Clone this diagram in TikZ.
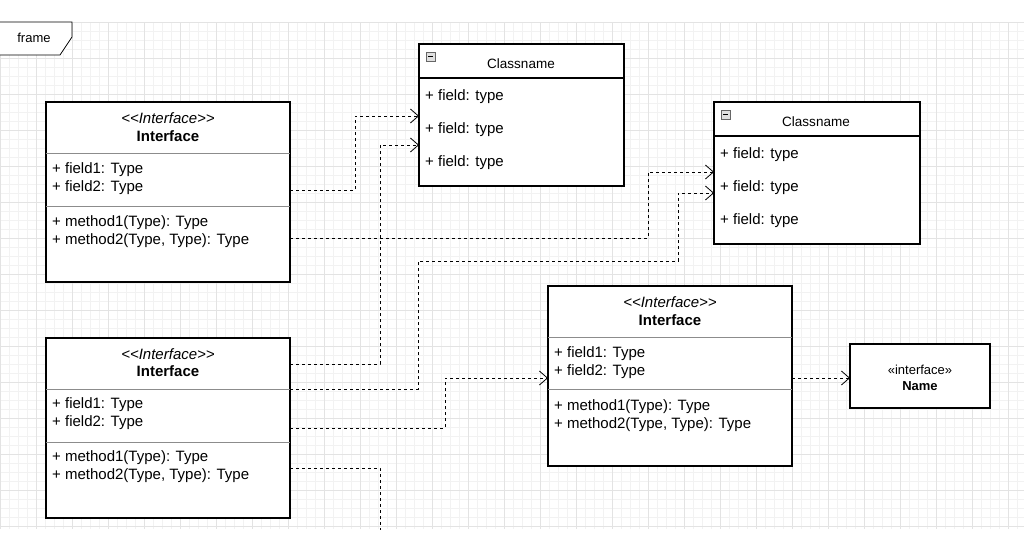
\documentclass[tikz,border=0pt]{standalone}
\usepackage{fontspec}
\setmainfont{Liberation Sans}[Ligatures=NoCommon]
\usetikzlibrary{arrows.meta}
\begin{document}
\begin{tikzpicture}[x=1pt,y=-1pt,
  box/.style={draw=black,line width=1.1pt,fill=white},
  sep/.style={draw=black!45,line width=0.8pt},
  dep/.style={dashed,dash pattern=on 3pt off 3pt,line width=0.8pt,-{Straight Barb[length=8pt,width=14pt]}},
  depn/.style={dashed,dash pattern=on 3pt off 3pt,line width=0.8pt},
  txt/.style={inner sep=0pt,anchor=west,font=\fontsize{15}{17}\selectfont},
  ctr/.style={inner sep=0pt,font=\fontsize{15}{17}\selectfont}]
\useasboundingbox (0,0) rectangle (1024,552);
\fill[white] (0,0) rectangle (1024,552);
% grid
\foreach \i in {0,9,...,1024} \draw[black!5,line width=0.5pt] (\i,22) -- (\i,529);
\foreach \j in {22,31,...,529} \draw[black!5,line width=0.5pt] (0,\j) -- (1024,\j);
\foreach \i in {0,36,...,1024} \draw[black!11,line width=0.6pt] (\i,22) -- (\i,529);
\foreach \j in {22,58,...,529} \draw[black!11,line width=0.6pt] (0,\j) -- (1024,\j);
% frame
\fill[white] (0,22) -- (72,22) -- (72,37) -- (60,55) -- (0,55) -- cycle;
\draw[line width=0.8pt] (0,22) -- (72,22) -- (72,37) -- (60,55) -- (0,55);
\node[inner sep=0pt,font=\fontsize{13}{15}\selectfont] (fr) at (34,38) {frame};
% Box 1
\path[box] (46,102) rectangle (290,282);
\draw[sep] (46,153) -- (290,153); \draw[sep] (46,206) -- (290,206);
\node[ctr] (b1s) at (168,118) {\textit{{<}{<}Interface{>}{>}}};
\node[ctr] (b1n) at (168,136) {\textbf{Interface}};
\node[txt] (b1f1) at (52,170) {+ field1: Type};
\node[txt] (b1f2) at (52,188) {+ field2: Type};
\node[txt] (b1m1) at (52,223) {+ method1(Type): Type};
\node[txt] (b1m2) at (52,241) {+ method2(Type, Type): Type};
% Box 2
\path[box] (46,338) rectangle (290,518);
\draw[sep] (46,389) -- (290,389); \draw[sep] (46,442) -- (290,442);
\node[ctr] (b2s) at (168,354) {\textit{{<}{<}Interface{>}{>}}};
\node[ctr] (b2n) at (168,371) {\textbf{Interface}};
\node[txt] (b2f1) at (52,405) {+ field1: Type};
\node[txt] (b2f2) at (52,423) {+ field2: Type};
\node[txt] (b2m1) at (52,458) {+ method1(Type): Type};
\node[txt] (b2m2) at (52,476) {+ method2(Type, Type): Type};
% Box 3
\path[box] (548,286) rectangle (792,466);
\draw[sep] (548,337) -- (792,337); \draw[sep] (548,389) -- (792,389);
\node[ctr] (b3s) at (670,302) {\textit{{<}{<}Interface{>}{>}}};
\node[ctr] (b3n) at (670,320) {\textbf{Interface}};
\node[txt] (b3f1) at (554,354) {+ field1: Type};
\node[txt] (b3f2) at (554,372) {+ field2: Type};
\node[txt] (b3m1) at (554,407) {+ method1(Type): Type};
\node[txt] (b3m2) at (554,425) {+ method2(Type, Type): Type};
% Classname 1
\path[box] (419,44) rectangle (624,186);
\draw[line width=1.1pt] (419,78) -- (624,78);
\draw[black!60,fill=black!12,line width=0.6pt] (426,52) rectangle (435,61);
\draw[line width=1pt] (428,56.5) -- (433,56.5);
\node[inner sep=0pt,font=\fontsize{13.5}{16}\selectfont] (c1n) at (521,64) {Classname};
\node[txt] (c1a) at (425,97) {+ field: type};
\node[txt] (c1b) at (425,130) {+ field: type};
\node[txt] (c1c) at (425,163) {+ field: type};
% Classname 2
\path[box] (714,102) rectangle (920,244);
\draw[line width=1.1pt] (714,136) -- (920,136);
\draw[black!60,fill=black!12,line width=0.6pt] (721,110) rectangle (730,119);
\draw[line width=1pt] (723,114.5) -- (728,114.5);
\node[inner sep=0pt,font=\fontsize{13.5}{16}\selectfont] (c2n) at (816,122) {Classname};
\node[txt] (c2a) at (720,155) {+ field: type};
\node[txt] (c2b) at (720,188) {+ field: type};
\node[txt] (c2c) at (720,221) {+ field: type};
% Name box
\path[box] (850,344) rectangle (990,408);
\node[inner sep=0pt,font=\fontsize{13}{15}\selectfont] (nm1) at (920,370) {«interface»};
\node[inner sep=0pt,font=\fontsize{13}{15}\selectfont\bfseries] (nm2) at (920,386) {Name};
% anchor coordinates
\coordinate (s1) at (290,190); \coordinate (t1) at (419,116);
\coordinate (s2) at (290,364); \coordinate (t2) at (419,145);
\coordinate (s3) at (290,238); \coordinate (t3) at (714,172);
\coordinate (s4) at (290,389); \coordinate (t4) at (714,193);
\coordinate (s5) at (290,428); \coordinate (t5) at (548,378);
\coordinate (s6) at (290,468); \coordinate (t6) at (380,530);
\coordinate (s7) at (792,378); \coordinate (t7) at (850,378);
% connectors
\draw[dep] (s1) -- (355,190) -- (355,116) -- (t1);
\draw[dep] (s2) -- (380,364) -- (380,145) -- (t2);
\draw[dep] (s3) -- (648,238) -- (648,172) -- (t3);
\draw[dep] (s4) -- (418,389) -- (418,261) -- (678,261) -- (678,193) -- (t4);
\draw[dep] (s5) -- (445,428) -- (445,378) -- (t5);
\draw[depn] (s6) -- (380,468) -- (t6);
\draw[dep] (s7) -- (t7);
\end{tikzpicture}
\end{document}
